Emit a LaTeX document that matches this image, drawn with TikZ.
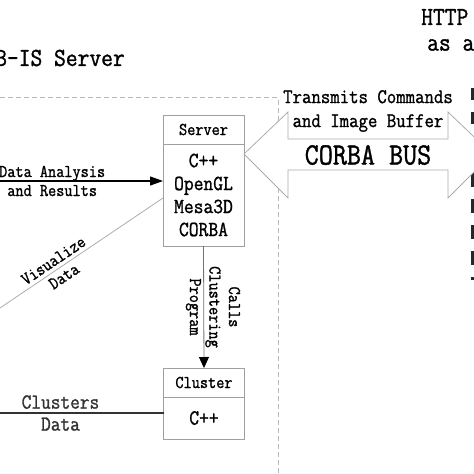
\documentclass[tikz,border=0pt]{standalone}
\usepackage{fontspec}
\newfontfamily\simfont[FakeStretch=0.88,FakeBold=1.2]{Latin Modern Mono}
\usetikzlibrary{positioning,arrows.meta}

\begin{document}
\begin{tikzpicture}[x=1pt,y=-1pt,
    boxline/.style={draw=gray!75,line width=0.8pt,outer sep=0pt},
    headbox/.style={boxline,minimum width=81pt,minimum height=29pt,inner sep=0pt,
        font=\simfont\fontsize{18}{22}\selectfont},
    bodybox/.style={boxline,minimum width=81pt,inner sep=0pt,align=center,
        font=\simfont\fontsize{21.6}{23}\selectfont},
    lbl/.style={align=center,inner sep=0pt,font=\simfont\fontsize{18}{19}\selectfont},
    tip/.style={-{Triangle[length=13pt,width=9pt,color=black]}},
]
    \useasboundingbox (0,0) rectangle (474,474);
    \clip (0,0) rectangle (474,474);
    % dashed frame of the server side
    \draw[gray!55,line width=0.8pt,dash pattern=on 5pt off 3pt] (0,97.5) -- (278,97.5) -- (278,480);
    % client side frame (cut off)
    \draw[black!85,line width=3.3pt,dash pattern=on 12pt off 12pt] (472.5,88) -- (472.5,125);
    \draw[black!85,line width=3.3pt,dash pattern=on 14pt off 12pt] (472.5,173) -- (472.5,280);

    % boxes
    \node[headbox] (serverhead) at (203.5,129.5) {Server};
    \node[bodybox,minimum height=102pt,below=0pt of serverhead] (serverbody) {C++\\OpenGL\\Mesa3D\\CORBA};
    \node[headbox] (clusterhead) at (204,382.5) {Cluster};
    \node[bodybox,minimum height=42pt,below=0pt of clusterhead] (clusterbody) {C++};

    % bus
    \coordinate (bustip) at (244,154);
    \draw[gray!65,line width=0.8pt,fill=white] (bustip) -- (288,112) -- (288,139) -- (448,139) -- (448,112)
        -- (492,154) -- (448,198) -- (448,170) -- (288,170) -- (288,198) -- cycle;
    \node[lbl,font=\simfont\fontsize{20.8}{24}\selectfont] (buslabel) at (368,111) {Transmits Commands\\and Image Buffer};
    \node[inner sep=0pt,font=\simfont\fontsize{31}{31}\selectfont] (busname) at (368,155) {CORBA BUS};

    % titles
    \node[anchor=east,inner sep=0pt,font=\simfont\fontsize{26}{26}\selectfont] (servertitle) at (125,58) {B-IS Server};
    \node[anchor=west,inner sep=0pt,font=\simfont\fontsize{26}{26}\selectfont] (httptext) at (421,17) {HTTP};
    \node[anchor=west,inner sep=0pt,font=\simfont\fontsize{26}{26}\selectfont] (astext) at (427,45) {as a};

    % connectors
    \coordinate (analysisleft) at (0,181);
    \draw[tip,line width=1.2pt] (analysisleft) -- (analysisleft -| serverbody.west)
        node[lbl,pos=0.32] {Data Analysis\\and Results};
    \coordinate (visualleft) at (0,308);
    \draw[gray!65,line width=0.8pt] (visualleft) -- ([yshift=-3pt]serverbody.west)
        node[lbl,sloped,pos=0.36,text=black] {Visualize\\Data};
    \draw[black!55,line width=0.8pt,-{Triangle[length=11pt,width=10pt,color=black]}] (serverbody.south) -- (clusterhead.north);
    \node[lbl,rotate=-90,font=\simfont\fontsize{18}{19.5}\selectfont] (callslabel) at (213,307) {Calls\\Clustering\\Program};
    \coordinate (clustersleft) at (0,413);
    \draw[black!80,line width=1.3pt] (clustersleft) -- (clustersleft -| clusterbody.west)
        node[lbl,pos=0.37,font=\simfont\fontsize{21.4}{22}\selectfont] {Clusters\\Data};
\end{tikzpicture}
\end{document}
